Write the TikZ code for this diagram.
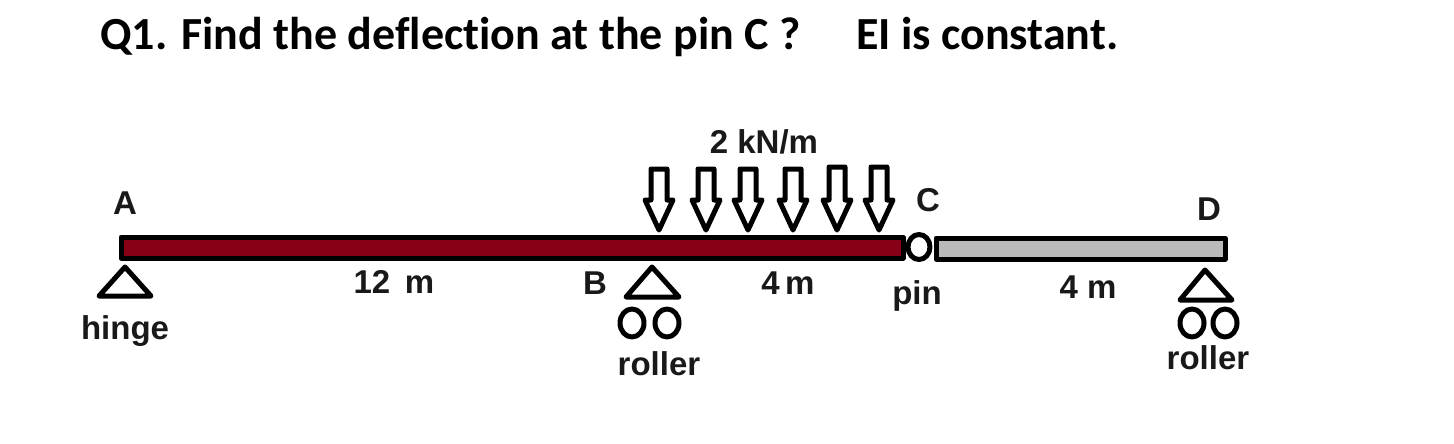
\documentclass[tikz,border=0pt]{standalone}
\usepackage{fontspec}
\setmainfont{Liberation Sans}
\newfontfamily\titlefont[Ligatures=NoCommon]{Carlito}
\definecolor{beamcol}{RGB}{135,0,22}
\tikzset{
  lbl/.style={font=\fontsize{33}{33}\selectfont\bfseries,text=black!90,inner sep=0pt,anchor=base},
  ttl/.style={font=\titlefont\fontsize{46}{46}\selectfont\bfseries,inner sep=0pt,anchor=base west},
  sup/.style={line width=5pt,line join=round,draw=black},
  beamred/.style={draw=black,fill=beamcol,line width=5pt},
  beamgrey/.style={draw=black,fill=black!27,line width=5pt}
}
\begin{document}
\begin{tikzpicture}[x=1pt,y=-1pt,line join=round]
\useasboundingbox (0,0) rectangle (1454,444);
% title
\node[ttl] (q1) at (100,50) {Q1. Find the deflection at the pin C ?};
\node[ttl] (ei) at (856,50) {EI is constant.};
% beams
\draw[beamred] (121,237) rectangle (903,258);
\draw[beamgrey] (936,238) rectangle (1225,259);
\draw[line width=5pt,fill=white] (919,247) ellipse(11 and 12.5);
% distributed load
\foreach \xa/\ya in {659/169,706/169,748/169,793/169,837/167,879/167} {
  \draw[line width=5pt,fill=white] (\xa-8,\ya)--(\xa+8,\ya)--(\xa+8,200)--(\xa+14,200)--(\xa,230)--(\xa-14,200)--(\xa-8,200)--cycle;
}
% supports
\draw[sup] (125,267)--(151,296)--(99,296)--cycle;
\draw[sup] (652,267)--(679,297)--(626,297)--cycle;
\draw[sup] (1205,270)--(1232,300)--(1180,300)--cycle;
\draw[sup] (632,323) ellipse(12 and 14) (667,323) ellipse(12 and 14);
\draw[sup] (1192,323) ellipse(12 and 14) (1225,323) ellipse(12 and 14);
% labels
\node[lbl] (load) at (764,153) {2 kN/m};
\node[lbl] (a) at (125,214) {A};
\node[lbl] (b) at (595,294) {B};
\node[lbl] (c) at (928,211) {C};
\node[lbl] (d) at (1209,220) {D};
\node[lbl] (l12) at (394,293) {12\, m};
\node[lbl] (l4a) at (788,294) {4\,m};
\node[lbl] (l4b) at (1088,298) {4 m};
\node[lbl] (pin) at (917,304) {pin};
\node[lbl] (hinge) at (125,339) {hinge};
\node[lbl] (rollb) at (659,375) {roller};
\node[lbl] (rolld) at (1208,369) {roller};
\end{tikzpicture}
\end{document}
